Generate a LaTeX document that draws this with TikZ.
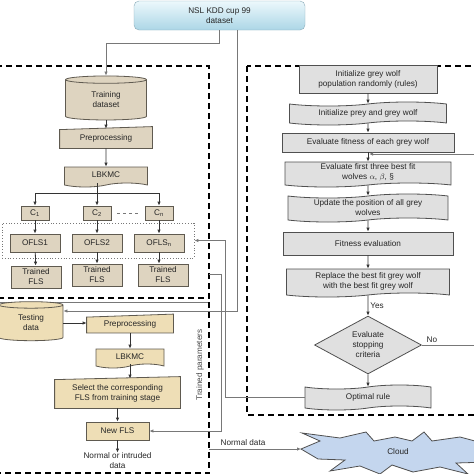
\documentclass[tikz,border=0pt]{standalone}
\usepackage{fontspec}
\setmainfont{Liberation Sans}
\usepackage{tikz}
\usetikzlibrary{arrows.meta,shapes.geometric,shapes.symbols,backgrounds}
\definecolor{tanBox}{RGB}{95,90,80}
\definecolor{tanBg}{RGB}{222,212,192}
\definecolor{sandBg}{RGB}{238,222,182}
\definecolor{wolfBox}{RGB}{80,80,80}
\definecolor{wolfBg}{RGB}{224,224,224}
\definecolor{skyTop}{RGB}{236,248,252}
\definecolor{skyBot}{RGB}{172,214,230}
\definecolor{cloudBg}{RGB}{196,214,238}
\definecolor{lineGrey}{RGB}{120,120,120}

\tikzset{
  base/.style={font=\fontsize{8.2}{10}\selectfont, text=black!85, align=center,
    inner sep=0pt, line width=0.8pt},
  tanbox/.style={base, draw=tanBox, fill=tanBg},
  sandbox/.style={base, draw=tanBox, fill=sandBg},
  wolfbox/.style={base, draw=wolfBox, fill=wolfBg},
  slantbox/.style={base},
  wavy/.style={tape, tape bend top=in and out, tape bend bottom=in and out,
    tape bend height=4pt},
  docwave/.style={tape, tape bend top=none, tape bend height=4pt},
  drum/.style={cylinder, shape border rotate=90, aspect=0.25},
  skybox/.style={base, rounded corners=5pt, top color=skyTop, bottom color=skyBot,
    draw=skyBot!80!black, line width=0.4pt},
  groupbox/.style={draw=lineGrey, dotted, line width=0.8pt, inner sep=0pt},
  flow/.style={-{Latex[length=4pt,width=3.5pt]}, line width=0.8pt, black!80},
  gline/.style={-{Latex[length=4pt,width=3.5pt]}, line width=0.8pt, lineGrey},
  frame/.style={line width=1.5pt, dash pattern=on 6pt off 4pt}
}

\begin{document}
\begin{tikzpicture}[x=1pt, y=-1pt]
  \useasboundingbox (0,0) rectangle (474,474);
  \clip (0,0) rectangle (474,474);
  % Dashed frames
  \draw[frame] (-20,66) rectangle (209,298);
  \draw[frame] (247,66) rectangle (520,415);
  \draw[lineGrey, line width=0.6pt] (-5,302) -- (209,302);
  \draw[frame] (209,302) -- (209,480);
  \draw[frame, line width=3pt] (-5,473) -- (209,473);

  % Dataset
  \node[skybox, minimum width=171, minimum height=29] (nsl) at (219.5,15.5)
    {NSL KDD cup 99\\dataset};

  % Training stage
  \node[tanbox, drum, minimum width=81, minimum height=44] (train) at (106,100)
    {Training\\dataset};
  \node[slantbox, minimum width=92, minimum height=19] (prepA) at (106,138.5)
    {Preprocessing};
  \node[tanbox, docwave, minimum width=83, minimum height=20] (lbkA) at (106,175)
    {LBKMC};
  \node[tanbox, minimum width=28, minimum height=14] (c1) at (35,213) {C\textsubscript{1}};
  \node[tanbox, minimum width=28, minimum height=14] (c2) at (97,213) {C\textsubscript{2}};
  \node[tanbox, minimum width=28, minimum height=14] (cn) at (159,213) {C\textsubscript{n}};
  \node[groupbox, minimum width=192, minimum height=35] (ofls) at (98,240.5) {};
  \node[tanbox, minimum width=50, minimum height=18] (oflsA) at (35,243) {OFLS1};
  \node[tanbox, minimum width=50, minimum height=18] (oflsB) at (97,243) {OFLS2};
  \node[tanbox, minimum width=50, minimum height=18] (oflsN) at (159,243) {OFLS\textsubscript{n}};
  \node[tanbox, minimum width=50, minimum height=22] (flsA) at (36,277) {Trained\\FLS};
  \node[tanbox, minimum width=50, minimum height=22] (flsB) at (97,275) {Trained\\FLS};
  \node[tanbox, minimum width=50, minimum height=22] (flsN) at (163,275) {Trained\\FLS};

  % Testing stage
  \node[sandbox, drum, minimum width=64, minimum height=39] (test) at (31,323)
    {Testing\\data};
  \node[slantbox, minimum width=86, minimum height=16] (prepB) at (130,324.5)
    {Preprocessing};
  \node[sandbox, docwave, minimum width=68, minimum height=19] (lbkB) at (130,356.5)
    {LBKMC};
  \node[slantbox, minimum width=125, minimum height=29] (pick) at (117.5,393.5)
    {Select the corresponding\\FLS from training stage};
  \node[sandbox, minimum width=63, minimum height=18] (newfls) at (117.5,431) {New FLS};
  \node[base] (result) at (117.5,461) {Normal or intruded\\data};

  % Grey wolf optimiser
  \node[wolfbox, minimum width=138, minimum height=28] (init) at (368,79)
    {Initialize grey wolf\\population randomly (rules)};
  \node[wolfbox, wavy, minimum width=157, minimum height=23] (prey) at (368,113.5)
    {Initialize prey and grey wolf};
  \node[wolfbox, minimum width=172, minimum height=19] (fit) at (368,142.5)
    {Evaluate fitness of each grey wolf};
  \node[wolfbox, docwave, minimum width=166, minimum height=25] (best) at (368,172.5)
    {Evaluate first three best fit\\wolves $\alpha$, $\beta$, §};
  \node[wolfbox, wavy, minimum width=160, minimum height=28] (move) at (368,208)
    {Update the position of all grey\\wolves};
  \node[wolfbox, minimum width=170, minimum height=23] (fiteval) at (368,243.5)
    {Fitness evaluation};
  \node[wolfbox, docwave, minimum width=163, minimum height=28] (swap) at (368,281)
    {Replace the best fit grey wolf\\with the best fit grey wolf};
  \node[wolfbox, diamond, minimum width=107, minimum height=54] (stop) at (368,345)
    {Evaluate\\stopping\\criteria};
  \node[wolfbox, wavy, minimum width=126, minimum height=25] (rule) at (368,397.5)
    {Optimal rule};

  % Cloud
  \filldraw[draw=wolfBox, fill=cloudBg, line width=0.8pt]
    (301,449) -- (320,441) -- (302,433) -- (340,438) -- (366,432) -- (374,441)
    -- (395,437) -- (412,441) -- (424,432) -- (432,441) -- (460,437) -- (490,445)
    -- (490,462) -- (456,463) -- (468,474) -- (440,467) -- (413,472) -- (392,465)
    -- (380,474) -- (360,466) -- (330,471) -- (345,460) -- (318,459) -- cycle;
  \node[base] (cloud) at (398,452) {Cloud};
  \coordinate (cloudtip) at (301,449);

  % Slanted boxes drawn behind their text
  \begin{scope}[on background layer]
    \foreach \n/\c in {prepA/tanBg, prepB/sandBg, pick/sandBg}
      \filldraw[draw=tanBox, fill=\c, line width=0.8pt] (\n.south west) -- (\n.south east)
        -- ([yshift=2pt]\n.north east) -- ([yshift=-1pt]\n.north west) -- cycle;
  \end{scope}

  % Flow inside the frames
  \draw[flow] (train) -- (prepA);
  \draw[flow] (prepA) -- (lbkA);
  \draw[flow] (lbkA.south -| c2.north) -- (c2.north);
  \coordinate (split) at (97,193);
  \draw[flow] (split) -| (c1.north);
  \draw[flow] (split) -| (cn.north);
  \foreach \a/\b in {c1/oflsA, c2/oflsB, cn/oflsN, oflsA/flsA, oflsB/flsB}
    \draw[flow] (\a) -- (\b);
  \draw[flow] (oflsN.south) -- (oflsN.south |- flsN.north);
  \draw[lineGrey, dashed, line width=0.6pt] ([xshift=6pt]c2.east) -- ([xshift=-7pt]cn.west);

  \draw[flow] (test.east) -- (test.east -| prepB.west);
  \draw[flow] (prepB) -- (lbkB);
  \draw[flow] (lbkB.south) -- (lbkB.south |- pick.north);
  \draw[flow] (pick) -- (newfls);
  \draw[flow] (newfls) -- (result);

  \foreach \a/\b in {init/prey, prey/fit, fit/best, best/move, move/fiteval,
    fiteval/swap, stop/rule}
    \draw[flow] (\a) -- (\b);
  \draw[flow] (swap) -- node[base, right=2pt] {Yes} (stop);

  % Long connectors
  \draw[gline] (nsl.south) -- ++(0,13) -| (train.north);
  \draw[gline] ([xshift=17.5pt]nsl.south) |- ([yshift=12pt]test.east);
  \coordinate (back) at (369,154);
  \draw[gline] (stop.east) -- node[base, above=2pt, pos=0.1] {No} ++(100,0) |- (back);
  \draw[gline] (rule.west) -- ++(-79,0) |- (ofls.east);
  \coordinate (tp) at (209,274);
  \draw[gline] (tp) -- ++(12,0) |- (newfls.east);
  \node[base, rotate=90, text=black!70] (tplabel) at (200,365) {Trained parameters};
  \coordinate (nd) at (209,449);
  \draw[gline] (nd) -- node[base, above=3pt, pos=0.37] {Normal data} (cloudtip);
\end{tikzpicture}
\end{document}
